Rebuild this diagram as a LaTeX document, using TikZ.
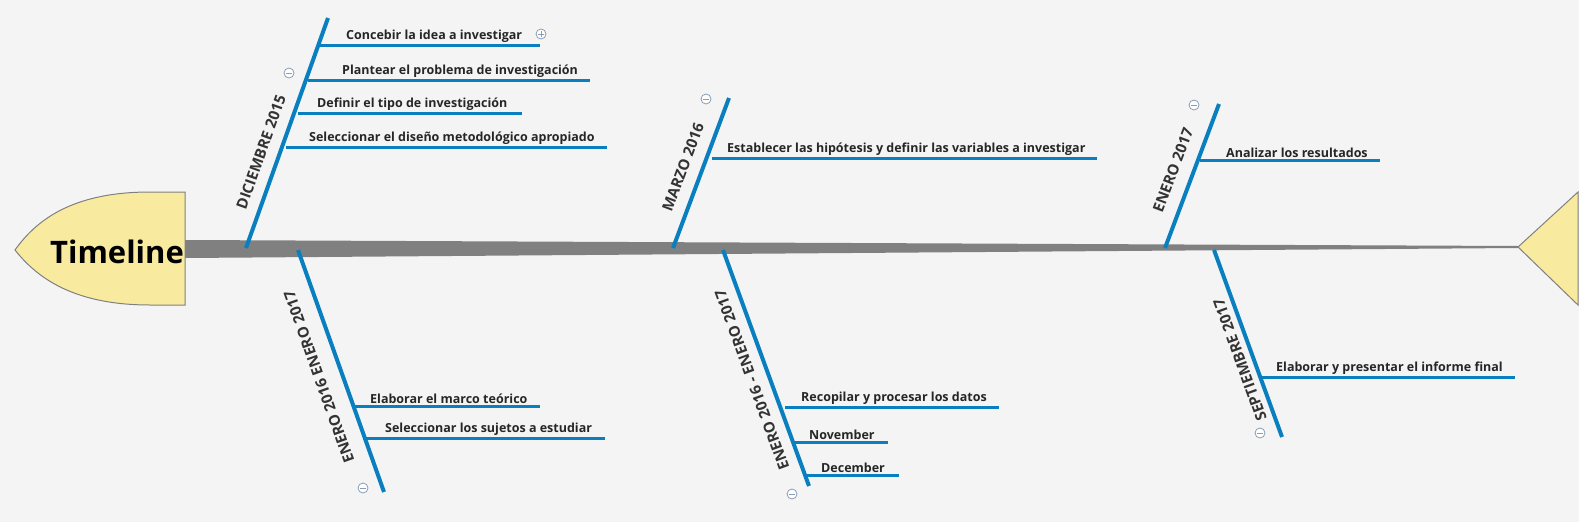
\documentclass[tikz,border=0pt]{standalone}
\usepackage{fontspec}
\setmainfont{Open Sans}
\begin{document}
\begin{tikzpicture}[x=1pt,y=-1pt,
  bone/.style={draw=boneblue,line width=4pt},
  twig/.style={draw=boneblue,line width=3pt},
  twigtxt/.style={anchor=south west,inner sep=1pt,font=\fontsize{12.5}{14}\selectfont\bfseries,text=black!85},
  bonelbl/.style={inner sep=0pt,font=\fontsize{15}{17}\selectfont\bfseries,text=black!80},
  icon/.style={circle,draw=iconc,fill=white,minimum size=10pt,inner sep=0pt,line width=0.8pt}]
\definecolor{boneblue}{HTML}{0A7FC0}
\definecolor{headfill}{HTML}{F8EBA0}
\definecolor{bgc}{HTML}{F4F4F4}
\definecolor{iconc}{HTML}{8A9DB5}
\useasboundingbox (0,0) rectangle (1579,522);
\fill[bgc] (0,0) rectangle (1579,522);
% spine
\fill[gray] (185,240) -- (1518,246) -- (1518,248) -- (185,258) -- cycle;
% head
\draw[fill=headfill,draw=gray,line width=1pt] (185,192) -- (185,305) -- (150,305) .. controls (70,305) and (35,275) .. (15,250) .. controls (35,222) and (70,192) .. (150,192) -- cycle;
\node[font=\fontsize{31}{34}\selectfont\bfseries] (title) at (117,252) {Timeline};
% tail
\draw[fill=headfill,draw=gray,line width=1pt] (1518,247) -- (1578,192) -- (1578,305) -- cycle;
\newcommand{\iconm}[2]{\node[icon] (#1) at #2 {}; \draw[iconc,line width=0.8pt] ([xshift=-2.8pt]#1.center) -- ([xshift=2.8pt]#1.center);}
\newcommand{\iconp}[2]{\iconm{#1}{#2}\draw[iconc,line width=0.8pt] ([yshift=-2.8pt]#1.center) -- ([yshift=2.8pt]#1.center);}
% ===== bone 1
\coordinate (a1) at (246,248); \coordinate (b1) at (328,18);
\draw[bone] (a1) -- (b1);
\node[bonelbl,rotate=70.4] (l1) at (261,152) {DICIEMBRE 2015};
\iconm{i1}{(289,73)}
\draw[twig] (318,45) -- (540,45); \node[twigtxt] (t11) at (345,44) {Concebir la idea a investigar};
\iconp{p11}{(541,34)}
\draw[twig] (308,80) -- (590,80); \node[twigtxt] (t12) at (341,79) {Plantear el problema de investigación};
\draw[twig] (298,113) -- (522,113); \node[twigtxt] (t13) at (316,112) {Definir el tipo de investigación};
\draw[twig] (286,147) -- (607,147); \node[twigtxt] (t14) at (308,146) {Seleccionar el diseño metodológico apropiado};
% ===== bone 2
\coordinate (a2) at (673,248); \coordinate (b2) at (729,98);
\draw[bone] (a2) -- (b2);
\node[bonelbl,rotate=69.5] (l2) at (683,167) {MARZO 2016};
\iconm{i2}{(706,99)}
\draw[twig] (712,158) -- (1097,158); \node[twigtxt] (t21) at (726,157) {Establecer las hipótesis y definir las variables a investigar};
% ===== bone 3
\coordinate (a3) at (1165,248); \coordinate (b3) at (1219,104);
\draw[bone] (a3) -- (b3);
\node[bonelbl,rotate=69.4] (l3) at (1173,170) {ENERO 2017};
\iconm{i3}{(1194,105)}
\draw[twig] (1200,160) -- (1380,160); \node[twigtxt] (t31) at (1225,159) {Analizar los resultados};
% ===== bone 4
\coordinate (a4) at (298,250); \coordinate (b4) at (384,492);
\draw[bone] (a4) -- (b4);
\node[bonelbl,rotate=109.6] (l4) at (319,377) {ENERO 2016 ENERO 2017};
\iconm{i4}{(363,488)}
\draw[twig] (352,406) -- (540,406); \node[twigtxt] (t41) at (369,405) {Elaborar el marco teórico};
\draw[twig] (363,438) -- (605,438); \node[twigtxt] (t42) at (384,437) {Seleccionar los sujetos a estudiar};
% ===== bone 5
\coordinate (a5) at (723,250); \coordinate (b5) at (809,486);
\draw[bone] (a5) -- (b5);
\node[bonelbl,rotate=110] (l5) at (752,380) {ENERO 2016 - ENERO 2017};
\iconm{i5}{(792,494)}
\draw[twig] (785,407) -- (999,407); \node[twigtxt] (t51) at (800,406) {Recopilar y procesar los datos};
\draw[twig] (795,442) -- (888,442); \node[twigtxt] (t52) at (808,441) {November};
\draw[twig] (806,475) -- (899,475); \node[twigtxt] (t53) at (820,474) {December};
% ===== bone 6
\coordinate (a6) at (1214,250); \coordinate (b6) at (1282,437);
\draw[bone] (a6) -- (b6);
\node[bonelbl,rotate=110] (l6) at (1240,360) {SEPTIEMBRE 2017};
\iconm{i6}{(1260,433)}
\draw[twig] (1262,377) -- (1515,377); \node[twigtxt] (t61) at (1275,376) {Elaborar y presentar el informe final};
\end{tikzpicture}
\end{document}
